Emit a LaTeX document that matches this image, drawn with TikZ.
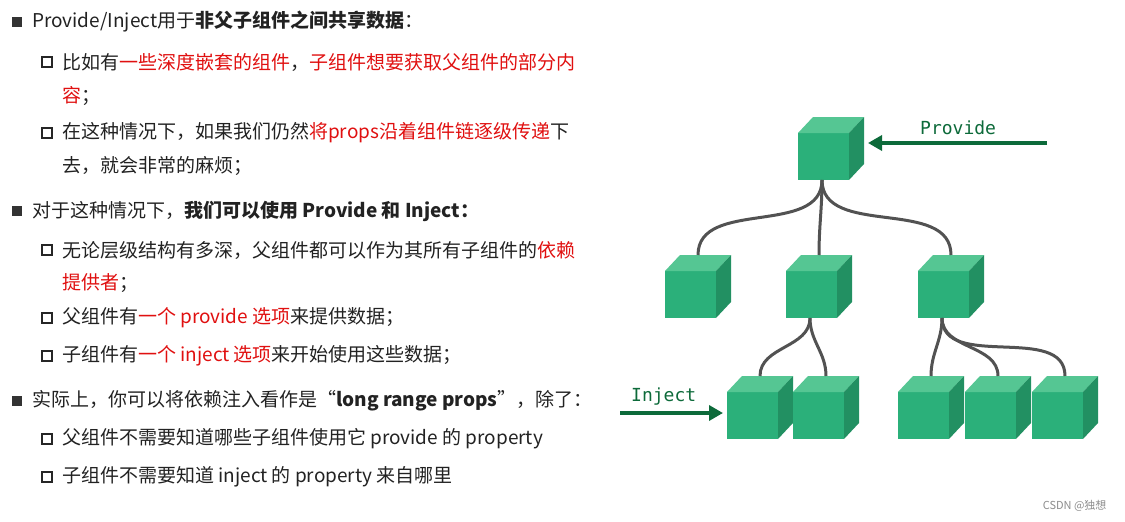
\documentclass[tikz,border=0pt]{standalone}
\usetikzlibrary{arrows.meta}
\usepackage{fontspec}
\setmainfont{Noto Sans CJK SC}
\setmonofont{DejaVu Sans Mono}
\definecolor{cfront}{HTML}{2BB07A}
\definecolor{ctop}{HTML}{55C693}
\definecolor{cside}{HTML}{229062}
\definecolor{carrow}{HTML}{0D6A3A}
\definecolor{cred}{HTML}{E01010}
\definecolor{ctext}{HTML}{222222}
\newcommand\mycube[3]{%
  \fill[cfront] (#2,#3) rectangle ++(51,47);
  \fill[ctop] (#2,#3) -- ++(15,-16) -- ++(51,0) -- ++(-15,16) -- cycle;
  \fill[cside] (#2+51,#3) -- ++(15,-16) -- ++(0,47) -- ++(-15,16) -- cycle;
  \coordinate (#1t) at (#2+33,#3-16);
  \coordinate (#1b) at (#2+24,#3+47);
}
\tikzset{link/.style={draw=black!68,line width=3pt},
 arr/.style={draw=carrow,line width=3.4pt,-{Triangle[length=14pt,width=15pt]}},
 lbl/.style={anchor=west,inner sep=0pt,text=ctext,font=\fontsize{19}{22}\selectfont},
 bul/.style={fill=black!80,minimum size=10pt,inner sep=0pt},
 sbul/.style={draw=black!85,line width=2pt,minimum size=9.5pt,inner sep=0pt}}
\newcommand\rd[1]{\textcolor{cred}{#1}}
\begin{document}
\begin{tikzpicture}[x=1pt,y=-1pt]
\useasboundingbox (0,0) rectangle (1125,522);
% text
\node[bul] (b1) at (17,22) {};
\node[lbl] (t1) at (32,22) {Provide/Inject用于\textbf{非父子组件之间共享数据}：};
\node[sbul] (s1) at (47,62) {};
\node[lbl] (t2) at (62,62) {比如有\rd{一些深度嵌套的组件}，\rd{子组件想要获取父组件的部分内}};
\node[lbl] (t3) at (62,96) {\rd{容}；};
\node[sbul] (s2) at (47,133) {};
\node[lbl] (t4) at (62,133) {在这种情况下，如果我们仍然\rd{将props沿着组件链逐级传递}下};
\node[lbl] (t5) at (62,166) {去，就会非常的麻烦；};
\node[bul] (b2) at (17,211) {};
\node[lbl] (t6) at (32,211) {对于这种情况下，\textbf{我们可以使用 Provide 和 Inject：}};
\node[sbul] (s3) at (47,250) {};
\node[lbl] (t7) at (62,250) {无论层级结构有多深，父组件都可以作为其所有子组件的\rd{依赖}};
\node[lbl] (t8) at (62,283) {\rd{提供者}；};
\node[sbul] (s4) at (47,318) {};
\node[lbl] (t9) at (62,318) {父组件有\rd{一个 provide 选项}来提供数据；};
\node[sbul] (s5) at (47,356) {};
\node[lbl] (t10) at (62,356) {子组件有\rd{一个 inject 选项}来开始使用这些数据；};
\node[bul] (b3) at (17,401) {};
\node[lbl] (t11) at (32,401) {实际上，你可以将依赖注入看作是“\textbf{long range props}”，除了：};
\node[sbul] (s6) at (47,439) {};
\node[lbl] (t12) at (62,439) {父组件不需要知道哪些子组件使用它 provide 的 property};
\node[sbul] (s7) at (47,477) {};
\node[lbl] (t13) at (62,477) {子组件不需要知道 inject 的 property 来自哪里};
\node[anchor=east,text=black!45,font=\fontsize{11}{13}\selectfont] (wm) at (1110,506) {CSDN @独想};
% cubes
\mycube{A}{798}{133}
\mycube{B}{665}{271}
\mycube{C}{786}{271}
\mycube{D}{918}{271}
\mycube{E}{727}{392}
\mycube{F}{793}{392}
\mycube{G}{898}{392}
\mycube{H}{965}{392}
\mycube{I}{1032}{392}
% links
\draw[link] (Ab) to[out=-90,in=90] (Bt);
\draw[link] (Ab) to[out=-90,in=90] (Ct);
\draw[link] (Ab) to[out=-90,in=90] (Dt);
\draw[link] (Cb) to[out=-90,in=90] (Et);
\draw[link] (Cb) to[out=-90,in=90] (Ft);
\draw[link] (Db) to[out=-90,in=90] (Gt);
\draw[link] (Db) to[out=-90,in=90] (Ht);
\draw[link] (Db) to[out=-90,in=90] (It);
% arrows
\coordinate (pstart) at (1047,143);
\coordinate (istart) at (620,413);
\draw[arr] (pstart) -- (868,143);
\draw[arr] (istart) -- (723,413);
\node[anchor=south west,inner sep=0pt,text=carrow,font=\ttfamily\fontsize{18}{20}\selectfont] (pl) at (920,135) {Provide};
\node[anchor=south west,inner sep=0pt,text=carrow,font=\ttfamily\fontsize{18}{20}\selectfont] (il) at (631,405) {Inject};
\end{tikzpicture}
\end{document}
